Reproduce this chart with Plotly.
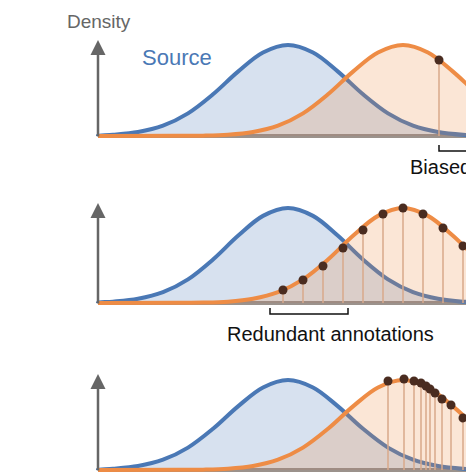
import plotly.graph_objects as go

# shared bell shape: offset from peak (px) -> height fraction
bell_dx = [-310, -225, -200, -175, -150, -125, -100, -75, -50, -25, 0,
           25, 50, 75, 100, 125, 150, 175, 200, 225, 310]
bell_h = [0.0, 0.002, 0.004, 0.014, 0.044, 0.114, 0.249, 0.458, 0.707, 0.917, 1.0,
          0.917, 0.707, 0.458, 0.249, 0.114, 0.044, 0.014, 0.004, 0.002, 0.0]

source_peak = 280
target_peak = 395
baselines = [128, 295, 462]
peak_heights = [91, 95, 90]
axis_tops = [32, 195, 366]

# annotated samples (x, y) per panel, in picture pixels
dots_x = [[431, 463],
          [275, 295, 315, 335, 355, 375, 395, 415, 435, 455, 474],
          [380, 396, 406, 413, 418, 422, 427, 434, 443, 455, 471]]
dots_y = [[52, 81],
          [282, 272, 258, 240, 222, 206, 200, 206, 220, 238, 257],
          [373, 371, 373, 375, 378, 381, 385, 391, 397, 410, 422]]

left_labels = [["n", "domain"], ["in", "omain"], ["-aware"]]
left_label_y = [[38, 68], [204, 233], [372]]

H = 474
def up(py):
    return H - py

BLUE = "#4a78b5"
ORANGE = "#ee8c45"

fig = go.Figure()
for i, base in enumerate(baselines):
    # baseline
    fig.add_trace(go.Scatter(x=[90, 474], y=[up(base), up(base)], mode="lines",
                             line=dict(color="#9b928c", width=4), hoverinfo="skip"))
    for peak, col, fillc in [(source_peak, BLUE, "rgba(74,120,181,0.22)"),
                             (target_peak, ORANGE, "rgba(238,140,69,0.22)")]:
        xs = [max(90, peak + d) for d in bell_dx]
        ys = [up(base) + h * peak_heights[i] for h in bell_h]
        fig.add_trace(go.Scatter(x=xs + [xs[-1], xs[0]], y=ys + [up(base), up(base)],
                                 fill="toself", fillcolor=fillc, mode="none",
                                 hoverinfo="skip"))
        fig.add_trace(go.Scatter(x=xs, y=ys, mode="lines", line_shape="spline",
                                 line=dict(color=col, width=4), hoverinfo="skip"))
    # stems and dots
    for x, y in zip(dots_x[i], dots_y[i]):
        fig.add_trace(go.Scatter(x=[x, x], y=[up(y), up(base)], mode="lines",
                                 line=dict(color="#d9a98a", width=1.5), hoverinfo="skip"))
    fig.add_trace(go.Scatter(x=dots_x[i], y=[up(v) for v in dots_y[i]], mode="markers",
                             marker=dict(color="#4a2c20", size=9), hoverinfo="skip"))
    # y axis arrow
    fig.add_annotation(x=90, y=up(axis_tops[i]), ax=90, ay=up(base + 2), xref="x", yref="y",
                       axref="x", ayref="y", showarrow=True, arrowhead=2, arrowsize=1.2,
                       arrowwidth=2.5, arrowcolor="#666666", text="")
    for t, ty in zip(left_labels[i], left_label_y[i]):
        fig.add_annotation(x=-2, y=up(ty), text=t, showarrow=False, xanchor="left",
                           font=dict(size=21, color="#111111"))

# brackets
fig.add_trace(go.Scatter(x=[431, 431, 474], y=[up(137), up(143), up(143)], mode="lines",
                         line=dict(color="#111111", width=1.5), hoverinfo="skip"))
fig.add_trace(go.Scatter(x=[262, 262, 340, 340], y=[up(300), up(306), up(306), up(300)],
                         mode="lines", line=dict(color="#111111", width=1.5), hoverinfo="skip"))
fig.add_annotation(x=400, y=up(159), text="Biased", showarrow=False, xanchor="left",
                   font=dict(size=20, color="#111111"))
fig.add_annotation(x=322, y=up(326), text="Redundant annotations", showarrow=False,
                   font=dict(size=20, color="#111111"))
fig.add_annotation(x=91, y=up(13), text="Density", showarrow=False,
                   font=dict(size=19, color="#666666"))
fig.add_annotation(x=169, y=up(49), text="Source", showarrow=False,
                   font=dict(size=22, color=BLUE))

fig.update_layout(width=474, height=474, margin=dict(l=0, r=0, t=0, b=0),
                  paper_bgcolor="white", plot_bgcolor="white", showlegend=False,
                  font=dict(family="Liberation Sans, Arial"),
                  xaxis=dict(range=[0, 474], visible=False, fixedrange=True),
                  yaxis=dict(range=[0, 474], visible=False, fixedrange=True))
fig.write_html("out.html")
